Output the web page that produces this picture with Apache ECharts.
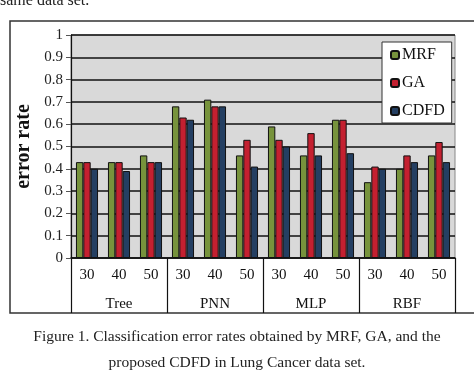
<!DOCTYPE html>
<html><head><meta charset="utf-8">
<script src="https://cdn.jsdelivr.net/npm/echarts@6/dist/echarts.min.js"></script>
<style>html,body{margin:0;padding:0;background:#fff}#c{width:474px;height:370px}</style>
</head><body><div id="c"></div>
<script>
const subCategories = ['30','40','50','30','40','50','30','40','50','30','40','50'];
const groups = ['Tree','PNN','MLP','RBF'];
const yTicks = [0,0.1,0.2,0.3,0.4,0.5,0.6,0.7,0.8,0.9,1];
const mrf  = [0.43,0.43,0.46, 0.68,0.71,0.46, 0.59,0.46,0.62, 0.34,0.40,0.46];
const ga   = [0.43,0.43,0.43, 0.63,0.68,0.53, 0.53,0.56,0.62, 0.41,0.46,0.52];
const cdfd = [0.40,0.39,0.43, 0.62,0.68,0.41, 0.50,0.46,0.47, 0.40,0.43,0.43];

const serif = '"Liberation Serif","Times New Roman",serif';
const chart = echarts.init(document.getElementById('c'), null, {renderer:'canvas'});
const barStyle = c => ({color:c, borderColor:'#111', borderWidth:1});
chart.setOption({
  animation:false,
  textStyle:{fontFamily:serif},
  grid:{left:71, right:19, top:35, bottom:112, show:true, backgroundColor:'#d9d9d9', borderColor:'#888', borderWidth:1},
  legend:{
    orient:'vertical', left:382, top:42, itemWidth:8, itemHeight:8, itemGap:12,
    padding:[5,7,4,8], backgroundColor:'#fff', borderColor:'#333', borderWidth:1, borderRadius:0,
    textStyle:{fontFamily:serif, fontSize:16, lineHeight:14, color:'#111', padding:[0,0,0,-2]},
    data:['MRF','GA','CDFD']
  },
  xAxis:[
    {type:'category', data:subCategories, position:'bottom',
     axisLine:{show:true, lineStyle:{color:'#111', width:1.5}},
     axisTick:{show:false},
     axisLabel:{fontFamily:serif, fontSize:15, color:'#111', margin:10}},
    {type:'category', data:groups, position:'bottom', gridIndex:0,
     axisLine:{show:false},
     axisTick:{show:true, length:55, lineStyle:{color:'#111', width:1.2}},
     axisLabel:{fontFamily:serif, fontSize:15, color:'#111', margin:39},
     splitLine:{show:false}}
  ],
  yAxis:{type:'value', min:0, max:1, interval:0.1,
    name:'error rate', nameLocation:'middle', nameGap:34,
    nameTextStyle:{fontFamily:serif, fontSize:20, fontWeight:'bold', color:'#111'},
    axisLine:{show:true, lineStyle:{color:'#111', width:1.2}},
    axisTick:{show:true, length:5, lineStyle:{color:'#555'}},
    axisLabel:{fontFamily:serif, fontSize:15, color:'#222', margin:8,
      formatter:v=>{const t=yTicks.find(x=>Math.abs(x-v)<1e-9); return t===undefined?'':String(t);}},
    splitLine:{show:true, lineStyle:{color:'#111', width:1.5}}
  },
  series:[
    {name:'MRF', type:'bar', data:mrf, xAxisIndex:0, barGap:'0%', barCategoryGap:'31%', itemStyle:barStyle('#77933c')},
    {name:'GA', type:'bar', data:ga, xAxisIndex:0, barGap:'0%', barCategoryGap:'31%', itemStyle:barStyle('#c42030')},
    {name:'CDFD', type:'bar', data:cdfd, xAxisIndex:0, barGap:'0%', barCategoryGap:'31%', itemStyle:barStyle('#243f62')}
  ],
  graphic:[
    {type:'rect', shape:{x:10, y:21, width:480, height:292}, style:{fill:null, stroke:'#333', lineWidth:1.5}, silent:true, z:-1},
    {type:'text', left:0, top:-7, style:{text:'same data set.', font:'16px '+serif, fill:'#222'}},
    {type:'text', x:237, y:337, style:{text:'Figure 1. Classification error rates obtained by MRF, GA, and the', font:'15.5px '+serif, fill:'#222', textAlign:'center', textVerticalAlign:'middle'}},
    {type:'text', x:237, y:363, style:{text:'proposed CDFD in Lung Cancer data set.', font:'15.5px '+serif, fill:'#222', textAlign:'center', textVerticalAlign:'middle'}}
  ]
});
</script></body></html>
